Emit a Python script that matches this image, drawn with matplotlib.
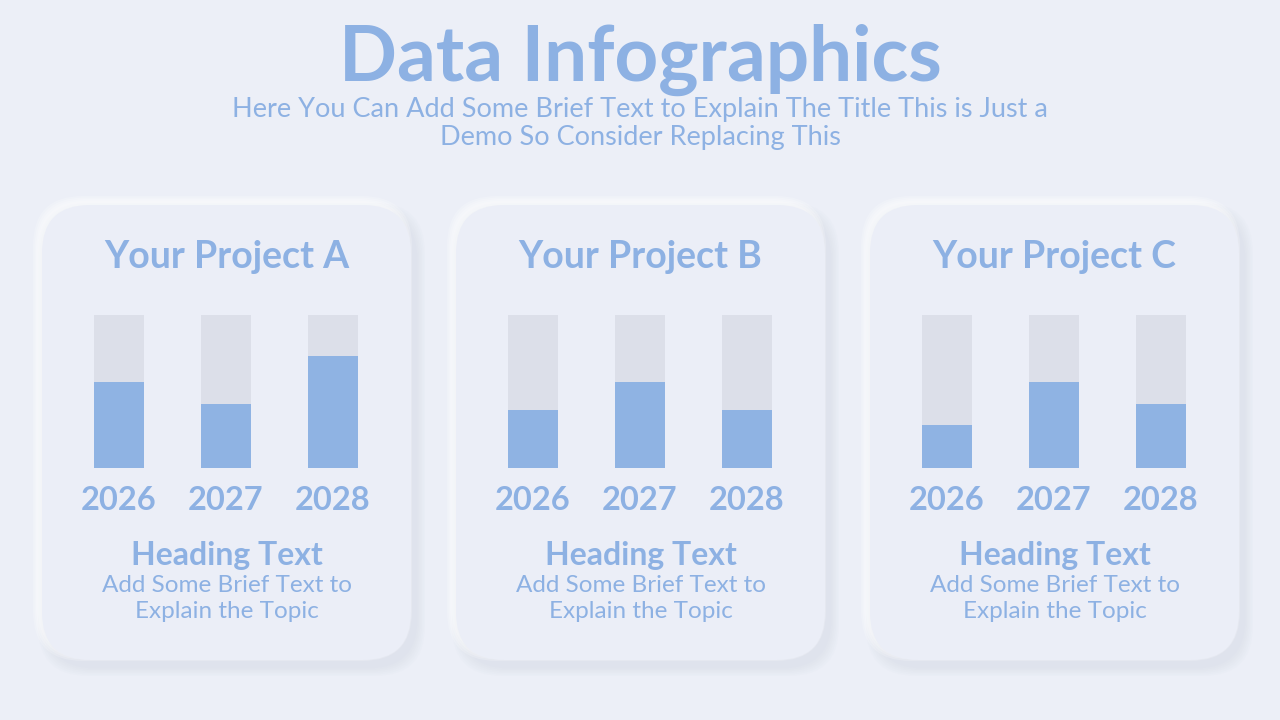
import matplotlib.pyplot as plt
from matplotlib.patches import FancyBboxPatch

# ---- data ----
projects = ['Your Project A', 'Your Project B', 'Your Project C']
years = ['2026', '2027', '2028']
values_a = [0.56, 0.42, 0.73]
values_b = [0.38, 0.56, 0.38]
values_c = [0.28, 0.56, 0.42]
all_values = [values_a, values_b, values_c]

BG = '#ECEFF7'
BLUE = '#8FB3E3'
TRACK = '#DCDFE9'
TXT = '#8DB1E3'
W, H = 1280, 720

fig = plt.figure(figsize=(12.8, 7.2), dpi=100, facecolor=BG)
bg = fig.add_axes([0, 0, 1, 1])
bg.set_xlim(0, W)
bg.set_ylim(H, 0)
bg.axis('off')
bg.set_facecolor(BG)

bg.text(640, 60, 'Data Infographics', ha='center', va='center', fontsize=55,
        fontweight='bold', color=TXT, family='Lato')
bg.text(640, 109, 'Here You Can Add Some Brief Text to Explain The Title This is Just a',
        ha='center', va='center', fontsize=19.5, color=TXT, family='Lato')
bg.text(640, 138, 'Demo So Consider Replacing This',
        ha='center', va='center', fontsize=19.5, color=TXT, family='Lato')

card_lefts = [42, 456, 870]
cw, ch, top = 369, 455, 205
for i, x0 in enumerate(card_lefts):
    # soft shadows
    for k in range(6):
        d = 18 - k * 3
        bg.add_patch(FancyBboxPatch((x0 + 5 - d / 2, top + 7 - d / 2), cw + d, ch + d,
                                    boxstyle='round,pad=0,rounding_size=50',
                                    fc='#C3CADD', ec='none', alpha=0.05))
    for k in range(4):
        d = 10 - k * 3
        bg.add_patch(FancyBboxPatch((x0 - 4 - d / 2, top - 4 - d / 2), cw + d, ch + d,
                                    boxstyle='round,pad=0,rounding_size=50',
                                    fc='#FFFFFF', ec='none', alpha=0.2))
    bg.add_patch(FancyBboxPatch((x0, top), cw, ch,
                                boxstyle='round,pad=0,rounding_size=48',
                                fc='#EBEEF7', ec='none'))
    cx = x0 + cw / 2
    bg.text(cx, 257, projects[i], ha='center', va='center', fontsize=27,
            fontweight='bold', color=TXT, family='Lato')
    bg.text(cx, 555, 'Heading Text', ha='center', va='center', fontsize=23,
            fontweight='bold', color=TXT, family='Lato')
    bg.text(cx, 585, 'Add Some Brief Text to', ha='center', va='center',
            fontsize=17.5, color=TXT, family='Lato')
    bg.text(cx, 611, 'Explain the Topic', ha='center', va='center',
            fontsize=17.5, color=TXT, family='Lato')

    # bar axes
    first = x0 + 77
    left = first - 53.5
    ax = fig.add_axes([left / W, 1 - 468 / H, 321 / W, 153 / H])
    ax.set_xlim(-0.5, 2.5)
    ax.set_ylim(0, 1)
    ax.patch.set_alpha(0)
    ax.bar(range(3), [1] * 3, width=0.458, color=TRACK)
    ax.bar(range(3), all_values[i], width=0.458, color=BLUE)
    ax.set_xticks(range(3))
    ax.set_xticklabels(years, fontsize=23.5, fontweight='bold', color=TXT, family='Lato')
    ax.tick_params(length=0, pad=13)
    ax.set_yticks([])
    for s in ax.spines.values():
        s.set_visible(False)

fig.savefig('out.png', dpi=100, facecolor=BG)
